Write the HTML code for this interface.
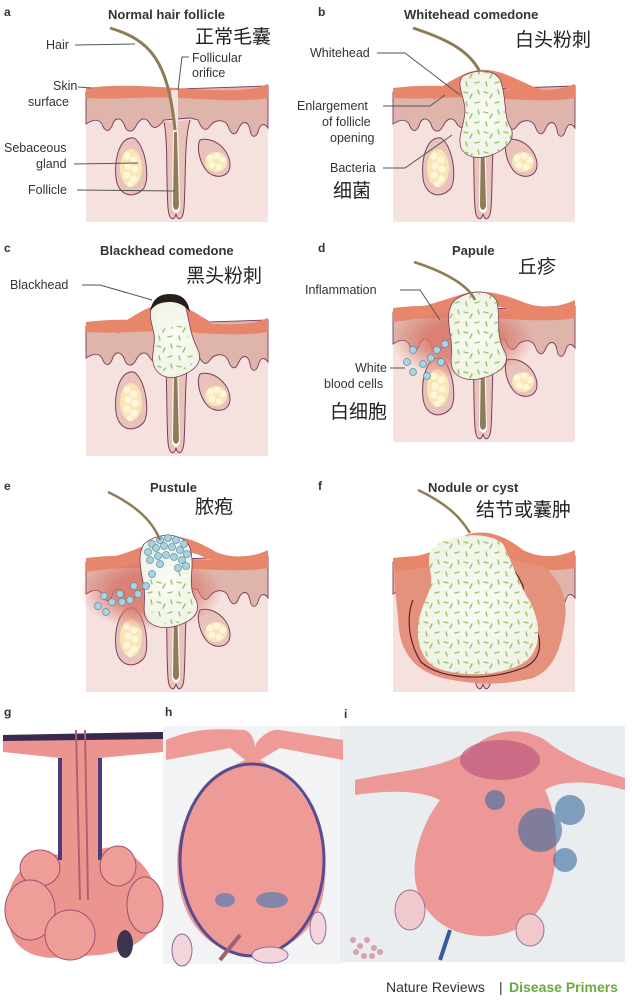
<!DOCTYPE html>
<html><head><meta charset="utf-8"><style>
html,body{margin:0;padding:0;background:#fff}
svg{display:block}
text{font-family:"Liberation Sans","Noto Sans CJK SC",sans-serif;fill:#333}
.l{font-size:12.5px}
.t{font-size:13px;font-weight:bold}
.z{font-size:19px;fill:#222}
.p{font-size:12px;font-weight:bold}
.ln{stroke:#555;stroke-width:1;fill:none}
</style></head><body>
<svg width="632" height="1000" viewBox="0 0 632 1000" xmlns="http://www.w3.org/2000/svg">
<defs>
<pattern id="bac" width="20" height="20" patternUnits="userSpaceOnUse">
<g stroke="#93c46c" stroke-width="1.4" stroke-linecap="round">
<line x1="2" y1="3" x2="6" y2="2"/><line x1="13" y1="2" x2="14" y2="6"/><line x1="5" y1="10" x2="6" y2="14"/><line x1="11" y1="12" x2="15" y2="13"/><line x1="17" y1="18" x2="19" y2="14"/></g>
</pattern>
<radialGradient id="blobg" cx="0.5" cy="0.5" r="0.6"><stop offset="0" stop-color="#fbfcf6"/><stop offset="1" stop-color="#eef2e2"/></radialGradient>
<radialGradient id="infl" cx="0.5" cy="0.5" r="0.5"><stop offset="0.5" stop-color="#d9776a"/><stop offset="1" stop-color="#d9776a" stop-opacity="0"/></radialGradient>
<g id="gland">
<path d="M0,0 C-14,-2 -20,20 -18,40 C-16,58 0,62 10,50 C16,40 12,8 0,0Z" fill="#e9c3bb" stroke="#7b3b5a" stroke-width="1"/>
<ellipse cx="-3" cy="30" rx="11" ry="19" fill="#f8e6b4"/>
<g fill="#fff7dc"><circle cx="-7" cy="18" r="3.5"/><circle cx="0" cy="22" r="3.5"/><circle cx="-6" cy="28" r="3.5"/><circle cx="1" cy="31" r="3.5"/><circle cx="-7" cy="37" r="3.5"/><circle cx="0" cy="41" r="3.5"/><circle cx="-4" cy="46" r="3"/></g>
</g>
<g id="glandR">
<path d="M0,0 C14,-4 30,10 30,25 C30,38 14,40 6,30 C0,22 -4,8 0,0Z" fill="#e9c3bb" stroke="#7b3b5a" stroke-width="1"/>
<ellipse cx="16" cy="22" rx="11" ry="10" fill="#f8e6b4"/>
<g fill="#fff7dc"><circle cx="10" cy="18" r="3.3"/><circle cx="17" cy="16" r="3.3"/><circle cx="23" cy="20" r="3.3"/><circle cx="12" cy="25" r="3.3"/><circle cx="19" cy="27" r="3.3"/></g>
</g>
<g id="base">
<rect x="0" y="10" width="182" height="132" fill="#f5e2de"/>
<path d="M0,12 L182,6 L182,48 C178,42 174,44 172,52 C170,58 165,58 164,50 C162,40 156,40 152,50 C148,58 144,52 142,46 C138,38 128,40 124,46 C120,52 116,50 112,40 L104,38 L78,40 C72,48 68,50 64,44 C60,36 54,38 50,46 C46,54 40,52 38,44 C34,36 28,38 26,46 C22,54 18,50 16,44 C12,38 6,40 0,44Z" fill="#dfb4aa" stroke="#7b3b5a" stroke-width="0.9"/>
<path d="M0,8 C30,4 60,6 90,8 C120,10 150,12 170,8 L182,4 L182,18 C160,22 130,20 96,18 C60,16 30,20 0,18Z" fill="#e8866b"/>
<use href="#gland" x="48" y="58"/>
<use href="#glandR" x="114" y="60"/>
<path d="M78,42 C82,60 80,100 82,128 C83,140 88,142 90,134 C92,142 97,140 98,128 C100,100 98,60 104,40" fill="#e9c3bb" stroke="#7b3b5a" stroke-width="1"/>
<path d="M87,50 L86,128 C87,134 93,134 94,128 L92,50Z" fill="#fff"/>
<path d="M88,52 L87,126 C88,131 92,131 93,126 L91,52Z" fill="#8d7c55"/>
</g>
</defs>

<!-- Panel a -->
<text x="4" y="16" class="p">a</text>
<text x="108" y="19" class="t">Normal hair follicle</text>
<text x="195" y="43" class="z">正常毛囊</text>
<g transform="translate(86,80)"><use href="#base"/>
<path d="M85,10 L92,10 L92,52 L88,52Z" fill="#f5e2de"/>
</g>
<path d="M110,28 C150,40 168,60 175,130" stroke="#8d7c55" stroke-width="3" fill="none"/>
<text x="46" y="49" class="l">Hair</text><line x1="75" y1="45" x2="135" y2="44" class="ln"/>
<text x="192" y="62" class="l">Follicular</text><text x="192" y="77" class="l">orifice</text><path d="M189,57 L182,57 L178,90" class="ln"/>
<text x="53" y="90" class="l">Skin</text><text x="28" y="106" class="l">surface</text><line x1="78" y1="87" x2="92" y2="88" class="ln"/>
<text x="4" y="152" class="l">Sebaceous</text><text x="36" y="168" class="l">gland</text><line x1="74" y1="164" x2="138" y2="163" class="ln"/>
<text x="28" y="194" class="l">Follicle</text><line x1="77" y1="190" x2="175" y2="191" class="ln"/>

<!-- Panel b -->
<text x="318" y="16" class="p">b</text>
<text x="404" y="19" class="t">Whitehead comedone</text>
<text x="515" y="46" class="z">白头粉刺</text>
<g transform="translate(393,80)"><use href="#base"/>
<path d="M40,12 C60,0 75,-12 95,-10 C115,-8 130,4 150,10 L150,20 C130,14 110,6 95,4 C75,4 60,14 40,20Z" fill="#e8866b"/>
<path d="M70,-4 C85,-12 105,-10 108,2 C114,20 110,36 118,48 C124,62 108,72 96,76 C82,80 72,76 68,68 C64,56 72,44 72,30 C72,18 62,4 70,-4Z" fill="url(#blobg)" stroke="#7b3b5a" stroke-width="0.8"/>
<path d="M70,-4 C85,-12 105,-10 108,2 C114,20 110,36 118,48 C124,62 108,72 96,76 C82,80 72,76 68,68 C64,56 72,44 72,30 C72,18 62,4 70,-4Z" fill="url(#bac)"/>
</g>
<path d="M413,28 C450,40 470,52 480,72" stroke="#8d7c55" stroke-width="3" fill="none"/>
<text x="310" y="57" class="l">Whitehead</text><path d="M377,53 L405,53 L460,95" class="ln"/>
<text x="297" y="110" class="l">Enlargement</text><text x="322" y="126" class="l">of follicle</text><text x="330" y="142" class="l">opening</text><path d="M383,106 L430,106 L445,95" class="ln"/>
<text x="330" y="172" class="l">Bacteria</text><path d="M383,168 L405,168 L452,135" class="ln"/>
<text x="333" y="197" class="z">细菌</text>

<!-- Panel c -->
<text x="4" y="252" class="p">c</text>
<text x="100" y="255" class="t">Blackhead comedone</text>
<text x="186" y="282" class="z">黑头粉刺</text>
<g transform="translate(86,314)"><use href="#base"/>
<path d="M30,12 C50,2 62,-10 80,-10 C100,-10 110,0 125,8 L125,20 C110,12 95,4 80,4 C65,4 50,14 30,20Z" fill="#e8866b"/>
<path d="M66,-8 C72,-18 96,-18 100,-6 C104,10 104,20 112,36 C118,50 106,58 94,62 C82,66 72,62 68,52 C64,42 70,32 68,20 C66,10 62,0 66,-8Z" fill="url(#blobg)" stroke="#7b3b5a" stroke-width="0.8"/>
<path d="M70,16 C70,30 68,42 72,54 C82,62 100,58 108,48 C104,30 100,20 102,10Z" fill="url(#bac)"/>
<path d="M64,-2 C66,-14 72,-20 84,-20 C96,-20 102,-14 104,-2 C98,-10 90,-12 84,-12 C76,-12 68,-10 64,-2Z" fill="#2a1d1d"/>
</g>
<text x="10" y="289" class="l">Blackhead</text><path d="M82,285 L100,285 L152,300" class="ln"/>

<!-- Panel d -->
<text x="318" y="252" class="p">d</text>
<text x="452" y="255" class="t">Papule</text>
<text x="518" y="273" class="z">丘疹</text>
<g transform="translate(393,300)"><use href="#base"/>
<ellipse cx="70" cy="40" rx="72" ry="38" fill="url(#infl)" opacity="0.85"/>
<path d="M0,12 C30,8 50,0 70,-6 C90,-12 110,-6 130,2 C150,10 170,6 182,0 L182,14 C160,20 140,16 120,10 C100,4 80,4 60,10 C40,16 20,20 0,22Z" fill="#e8866b"/>
<path d="M62,0 C78,-12 100,-10 104,2 C108,20 102,36 112,52 C118,66 104,74 90,78 C76,82 64,78 60,70 C56,62 60,54 58,40 C56,26 52,10 62,0Z" fill="url(#blobg)" stroke="#7b3b5a" stroke-width="0.8"/>
<path d="M62,0 C78,-12 100,-10 104,2 C108,20 102,36 112,52 C118,66 104,74 90,78 C76,82 64,78 60,70 C56,62 60,54 58,40 C56,26 52,10 62,0Z" fill="url(#bac)"/>
<g fill="#a9d3e0" stroke="#5e94a8" stroke-width="0.8"><circle cx="20" cy="50" r="3.5"/><circle cx="14" cy="62" r="3.5"/><circle cx="20" cy="72" r="3.5"/><circle cx="30" cy="64" r="3.5"/><circle cx="38" cy="58" r="3.5"/><circle cx="44" cy="50" r="3.5"/><circle cx="52" cy="44" r="3.5"/><circle cx="48" cy="62" r="3.5"/><circle cx="34" cy="76" r="3.5"/></g>
</g>
<path d="M414,262 C445,272 468,285 475,300" stroke="#8d7c55" stroke-width="2.5" fill="none"/>
<text x="305" y="294" class="l">Inflammation</text><path d="M400,290 L420,290 L440,320" class="ln"/>
<text x="355" y="372" class="l">White</text><text x="324" y="388" class="l">blood cells</text><line x1="390" y1="368" x2="405" y2="368" class="ln"/>
<text x="330" y="418" class="z">白细胞</text>

<!-- Panel e -->
<text x="4" y="490" class="p">e</text>
<text x="150" y="492" class="t">Pustule</text>
<text x="195" y="513" class="z">脓疱</text>
<g transform="translate(86,550)"><use href="#base"/>
<ellipse cx="65" cy="42" rx="72" ry="38" fill="url(#infl)" opacity="0.85"/>
<path d="M0,12 C30,8 50,0 70,-10 C90,-18 110,-10 130,2 C150,10 170,6 182,0 L182,14 C160,20 140,16 120,8 C100,-2 80,0 60,10 C40,16 20,20 0,22Z" fill="#e8866b"/>
<path d="M58,-6 C74,-20 100,-16 104,-2 C110,18 100,34 110,50 C116,64 104,72 90,76 C76,80 64,76 60,68 C56,60 60,52 58,38 C56,24 50,6 58,-6Z" fill="url(#blobg)" stroke="#7b3b5a" stroke-width="0.8"/>
<path d="M62,30 C60,50 62,66 78,74 C96,76 110,66 106,48 C100,34 104,20 100,20Z" fill="url(#bac)"/>
<g fill="#a9d3e0" stroke="#5e94a8" stroke-width="0.8">
<circle cx="66" cy="-6" r="3.5"/><circle cx="74" cy="-10" r="3.5"/><circle cx="82" cy="-12" r="3.5"/><circle cx="90" cy="-10" r="3.5"/><circle cx="98" cy="-6" r="3.5"/>
<circle cx="62" cy="2" r="3.5"/><circle cx="70" cy="-2" r="3.5"/><circle cx="78" cy="-4" r="3.5"/><circle cx="86" cy="-3" r="3.5"/><circle cx="94" cy="0" r="3.5"/><circle cx="101" cy="4" r="3.5"/>
<circle cx="64" cy="10" r="3.5"/><circle cx="72" cy="6" r="3.5"/><circle cx="80" cy="5" r="3.5"/><circle cx="88" cy="7" r="3.5"/><circle cx="96" cy="10" r="3.5"/><circle cx="74" cy="14" r="3.5"/><circle cx="92" cy="18" r="3.5"/><circle cx="100" cy="16" r="3.5"/>
<circle cx="66" cy="24" r="3.5"/><circle cx="60" cy="36" r="3.5"/><circle cx="52" cy="44" r="3.5"/><circle cx="44" cy="50" r="3.5"/><circle cx="36" cy="52" r="3.5"/><circle cx="26" cy="52" r="3.5"/><circle cx="18" cy="46" r="3.5"/><circle cx="12" cy="56" r="3.5"/><circle cx="20" cy="62" r="3.5"/><circle cx="34" cy="44" r="3.5"/><circle cx="48" cy="36" r="3.5"/></g>
</g>
<path d="M108,492 C135,505 152,520 160,540" stroke="#8d7c55" stroke-width="2.5" fill="none"/>

<!-- Panel f -->
<text x="318" y="490" class="p">f</text>
<text x="428" y="492" class="t">Nodule or cyst</text>
<text x="476" y="516" class="z">结节或囊肿</text>
<g transform="translate(393,550)"><use href="#base"/>
<path d="M2,20 C10,10 30,8 50,12 L140,10 C160,20 176,40 172,70 C168,100 160,120 140,128 C110,136 80,134 60,130 C30,126 10,110 6,80 C4,50 0,30 2,20Z" fill="#e4927e"/>
<path d="M0,10 C30,6 50,0 70,-14 C90,-22 110,-16 130,0 C150,10 170,6 182,0 L182,14 C160,20 140,16 120,10 C100,0 80,0 60,10 C40,16 20,20 0,22Z" fill="#e8866b"/>
<path d="M20,50 C14,64 14,90 28,112 C50,132 100,130 130,118 C150,110 150,90 140,70 C132,56 130,44 130,36 C124,22 116,14 110,14" fill="none" stroke="#5a2233" stroke-width="1.2"/>
<path d="M40,-2 C55,-16 95,-20 110,-6 C118,10 124,30 136,50 C148,72 150,98 132,112 C110,126 70,128 44,118 C28,110 22,90 26,70 C30,50 40,40 38,26 C36,14 34,4 40,-2Z" fill="url(#blobg)"/>
<path d="M40,-2 C55,-16 95,-20 110,-6 C118,10 124,30 136,50 C148,72 150,98 132,112 C110,126 70,128 44,118 C28,110 22,90 26,70 C30,50 40,40 38,26 C36,14 34,4 40,-2Z" fill="url(#bac)"/>
</g>
<path d="M418,490 C450,505 462,520 470,533" stroke="#8d7c55" stroke-width="2.5" fill="none"/>

<!-- Histology -->
<text x="4" y="716" class="p">g</text>
<text x="165" y="716" class="p">h</text>
<text x="344" y="718" class="p">i</text>
<rect x="163" y="726" width="180" height="238" fill="#f1f3f4"/>
<rect x="340" y="726" width="285" height="236" fill="#e9edf0"/>
<!-- g -->
<path d="M3,735 L163,732 L163,752 L100,758 L98,850 C120,840 150,860 160,900 C160,930 140,950 100,955 L50,958 C20,955 5,940 8,900 C10,870 40,850 60,855 L60,758 L3,752Z" fill="#ec9590"/>
<path d="M3,735 L163,732 L163,739 L3,741Z" fill="#3b2850"/>
<path d="M60,758 L60,860 M100,758 L100,860" stroke="#4b3a80" stroke-width="4"/>
<path d="M76,730 L80,900 M85,730 L88,900" stroke="#b06070" stroke-width="2"/>
<ellipse cx="125" cy="944" rx="8" ry="14" fill="#3d3550"/>
<g fill="#ef9d98" stroke="#a0506a" stroke-width="1">
<ellipse cx="40" cy="868" rx="20" ry="18"/><ellipse cx="118" cy="866" rx="18" ry="20"/>
<ellipse cx="30" cy="910" rx="25" ry="30"/><ellipse cx="145" cy="905" rx="18" ry="28"/><ellipse cx="70" cy="935" rx="25" ry="25"/></g>
<!-- h -->
<path d="M166,740 C190,730 210,728 240,730 C250,728 255,740 255,748 C255,740 270,728 280,730 L343,740 L343,760 L280,748 L260,760 C300,780 330,820 325,880 C322,930 290,950 255,955 C215,955 185,930 178,880 C172,820 200,780 245,760 L230,748 L166,760Z" fill="#ee9a96"/>
<ellipse cx="252" cy="860" rx="72" ry="96" fill="none" stroke="#5a4a90" stroke-width="3"/>
<g fill="#5a7ab0" opacity="0.7"><ellipse cx="225" cy="900" rx="10" ry="7"/><ellipse cx="272" cy="900" rx="16" ry="8"/></g>
<path d="M220,960 L240,935" stroke="#a06070" stroke-width="4"/>
<g fill="#f3d6dc" stroke="#8a6aa0"><ellipse cx="182" cy="950" rx="10" ry="16"/><ellipse cx="270" cy="955" rx="18" ry="8"/><ellipse cx="318" cy="928" rx="8" ry="16"/></g>
<!-- i -->
<path d="M355,780 C400,770 440,770 470,750 C490,730 520,725 545,740 C570,760 600,770 625,778 L625,790 C590,780 560,780 545,790 C560,820 560,870 545,900 C530,930 500,940 470,935 C440,930 420,910 415,880 C412,850 425,820 440,800 C420,790 390,790 355,795Z" fill="#ec9896"/>
<ellipse cx="500" cy="760" rx="40" ry="20" fill="#c05a80" opacity="0.7"/>
<g fill="#3a6aa0" opacity="0.6"><circle cx="495" cy="800" r="10"/><circle cx="540" cy="830" r="22"/><circle cx="570" cy="810" r="15"/><circle cx="565" cy="860" r="12"/></g>
<g fill="#f1c8cc" stroke="#a07090"><ellipse cx="410" cy="910" rx="15" ry="20"/><ellipse cx="530" cy="930" rx="14" ry="16"/></g>
<g fill="#d8a0b0"><circle cx="353" cy="940" r="3"/><circle cx="360" cy="946" r="3"/><circle cx="367" cy="940" r="3"/><circle cx="374" cy="948" r="3"/><circle cx="356" cy="952" r="3"/><circle cx="364" cy="956" r="3"/><circle cx="372" cy="956" r="3"/><circle cx="380" cy="952" r="3"/></g>
<path d="M450,930 L440,960" stroke="#3a5aa0" stroke-width="4"/>

<text x="386" y="992" style="font-size:14px" fill="#333">Nature Reviews</text>
<text x="499" y="992" style="font-size:14px" fill="#333">|</text>
<text x="509" y="992" style="font-size:14px;font-weight:bold;fill:#6aaa3c">Disease Primers</text>
</svg>
</body></html>
